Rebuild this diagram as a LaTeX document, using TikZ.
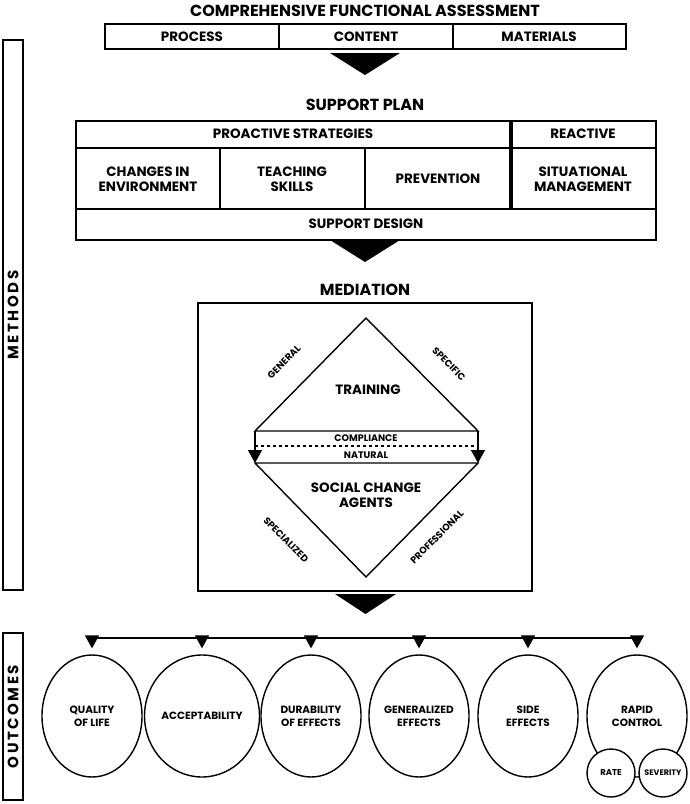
\documentclass[tikz,border=0pt]{standalone}
\usepackage{fontspec}
\setmainfont{Poppins}
\usetikzlibrary{arrows.meta,shapes.geometric}
\begin{document}
\begin{tikzpicture}[x=1pt,y=-1pt,line width=1.4pt,
 ttl/.style={font=\fontsize{16}{17}\selectfont\bfseries},
 lbl/.style={font=\fontsize{13.5}{15}\selectfont\bfseries, align=center},
 tiny/.style={font=\fontsize{9.5}{10}\selectfont\bfseries,inner sep=1pt},
 outc/.style={draw,ellipse,minimum width=100pt,minimum height=122pt,inner sep=0pt,font=\fontsize{10.5}{13}\selectfont\bfseries,align=center},
 dn/.style={-{Triangle[length=13pt,width=14pt]}}]
\useasboundingbox (0,0) rectangle (690,804);
% side bars
\node[draw,minimum width=20pt,minimum height=550pt,inner sep=0pt] (meth) at (13,315) {};
\node[rotate=90,font=\fontsize{15}{16}\selectfont\bfseries] at (meth) {M\,E\,T\,H\,O\,D\,S};
\node[draw,minimum width=20pt,minimum height=167pt,inner sep=0pt] (outbar) at (13,716.5) {};
\node[rotate=90,font=\fontsize{15}{16}\selectfont\bfseries] at (outbar) {O\,U\,T\,C\,O\,M\,E\,S};
% top
\node[ttl] (cfa) at (365,11) {COMPREHENSIVE FUNCTIONAL ASSESSMENT};
\draw (105,24) rectangle (626,49);
\draw (279,24) -- (279,49) (453,24) -- (453,49);
\node[lbl] (p1) at (192,37) {PROCESS};
\node[lbl] (p2) at (366,37) {CONTENT};
\node[lbl] (p3) at (539,37) {MATERIALS};
\fill (330,53) -- (400,53) -- (365,75) -- cycle;
% support plan
\node[ttl] (sp) at (365,105) {SUPPORT PLAN};
\draw (76,121) rectangle (656,240);
\draw (76,148) -- (656,148) (76,209) -- (656,209);
\draw[line width=3.5pt] (511,121) -- (511,209);
\draw (220,148) -- (220,209) (365,148) -- (365,209);
\node[lbl] (pro) at (293,134) {PROACTIVE STRATEGIES};
\node[lbl] (rea) at (583,134) {REACTIVE};
\node[lbl] (c1) at (148,179) {CHANGES IN\\ENVIRONMENT};
\node[lbl] (c2) at (292,179) {TEACHING\\SKILLS};
\node[lbl] (c3) at (438,179) {PREVENTION};
\node[lbl] (c4) at (583,179) {SITUATIONAL\\MANAGEMENT};
\node[lbl] (sd) at (366,224) {SUPPORT DESIGN};
\fill (330,240) -- (400,240) -- (365,262) -- cycle;
% mediation
\node[ttl] (med) at (365,290) {MEDIATION};
\draw (198,303) rectangle (532,591);
\coordinate (T) at (366,318); \coordinate (L) at (255,431); \coordinate (R) at (478,431);
\coordinate (L2) at (255,463); \coordinate (R2) at (478,463); \coordinate (B) at (366,577);
\draw (L) -- (T) -- (R) -- cycle;
\draw (L2) -- (B) -- (R2) -- cycle;
\draw[dashed] (255,446) -- (478,446);
\draw[dn] (L) -- (L2);
\draw[dn] (R) -- (R2);
\node[lbl] (tr) at (368,390) {TRAINING};
\node[lbl] (sca) at (366,495) {SOCIAL CHANGE\\AGENTS};
\node[tiny] at (366,438) {COMPLIANCE};
\node[tiny] at (366,455) {NATURAL};
\node[tiny,rotate=45] at (284,362) {GENERAL};
\node[tiny,rotate=-45] at (449,364) {SPECIFIC};
\node[tiny,rotate=-45] at (286,540) {SPECIALIZED};
\node[tiny,rotate=45] at (437,537) {PROFESSIONAL};
\fill (335,594) -- (396,594) -- (365.5,614) -- cycle;
% outcomes
\draw (92,638) -- (637,638);
\foreach \x/\n/\t in {92/o1/{QUALITY\\OF LIFE},202/o2/{ACCEPTABILITY},311/o3/{DURABILITY\\OF EFFECTS},419/o4/{GENERALIZED\\EFFECTS},528/o5/{SIDE\\EFFECTS},637/o6/{RAPID\\CONTROL}}{
 \node[outc] (\n) at (\x,716) {\t};
 \draw[dn] (\x,637.3) -- ([yshift=6pt]\n.north);
}
\node[draw,circle,minimum size=48pt,inner sep=0pt,fill=white,font=\fontsize{8.5}{9}\selectfont\bfseries] (rate) at (611,773) {RATE};
\node[draw,circle,minimum size=48pt,inner sep=0pt,fill=white,font=\fontsize{8}{9}\selectfont\bfseries] (sev) at (663,773) {SEVERITY};
\end{tikzpicture}
\end{document}
